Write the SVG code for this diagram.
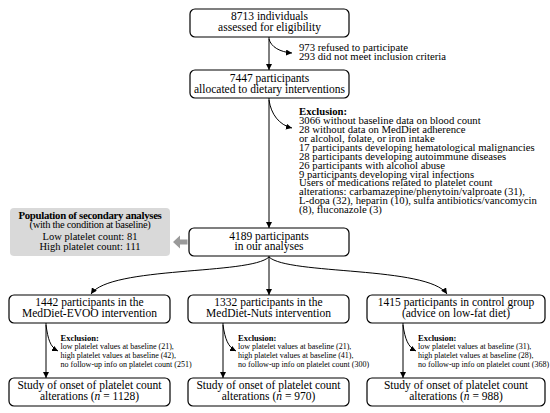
<svg xmlns="http://www.w3.org/2000/svg" width="550" height="413" viewBox="0 0 550 413">
<style>
text{font-family:"Liberation Serif","Times New Roman",serif;fill:#000}
.box{fill:#fff;stroke:#000;stroke-width:1.2}
.t{font-size:11.5px;text-anchor:middle}
.ex{font-size:10.7px}
.exb{font-weight:bold}
.sm{font-size:8px}
.smb{font-size:8.5px;font-weight:bold}
.ln{fill:none;stroke:#000;stroke-width:1}
</style>
<defs>
<marker id="ah" viewBox="0 0 10 10" refX="10" refY="5" markerWidth="6" markerHeight="6" markerUnits="userSpaceOnUse" orient="auto">
<path d="M0,0 L10,5 L0,10 Z" fill="#000"/>
</marker>
</defs>

<g id="connectors">
<path class="ln" d="M269,37 V70" marker-end="url(#ah)"/>
<path class="ln" d="M269,39 C271,47 280,52 292,53" marker-end="url(#ah)"/>
<path class="ln" d="M269,98 V228" marker-end="url(#ah)"/>
<path class="ln" d="M269,100 C271,114 279,125 292,128" marker-end="url(#ah)"/>
<path class="ln" d="M269,256 V295" marker-end="url(#ah)"/>
<path class="ln" d="M269,257 C250,275 110,266 91,294" marker-end="url(#ah)"/>
<path class="ln" d="M269,257 C288,275 428,266 447,294" marker-end="url(#ah)"/>
<path class="ln" d="M46,323 V378" marker-end="url(#ah)"/>
<path class="ln" d="M46,325 C48,339 50,347 58,351" marker-end="url(#ah)"/>
<path class="ln" d="M223,323 V378" marker-end="url(#ah)"/>
<path class="ln" d="M223,325 C225,339 228,347 236,351" marker-end="url(#ah)"/>
<path class="ln" d="M403,323 V378" marker-end="url(#ah)"/>
<path class="ln" d="M403,325 C405,339 408,347 416,351" marker-end="url(#ah)"/>
<polygon points="173,242 180,235.5 180,239.5 187.5,239.5 187.5,244.5 180,244.5 180,248.5" fill="#9a9a9a"/>
</g>

<g id="n-eligibility">
<rect class="box" x="190" y="9" width="159" height="28" rx="5"/>
<text class="t" x="269.5" y="19.5">8713 individuals</text>
<text class="t" x="269.5" y="30.5">assessed for eligibility</text>
</g>

<g id="n-excl1">
<text class="ex" x="299" y="50.5">973 refused to participate</text>
<text class="ex" x="299" y="59.5">293 did not meet inclusion criteria</text>
</g>

<g id="n-allocated">
<rect class="box" x="190" y="70" width="159" height="28" rx="5"/>
<text class="t" x="269.5" y="81.5">7447 participants</text>
<text class="t" x="269.5" y="92.5">allocated to dietary interventions</text>
</g>

<g id="n-excl2">
<text class="ex exb" x="299" y="115">Exclusion:</text>
<text class="ex" x="299" y="124">3066 without baseline data on blood count</text>
<text class="ex" x="299" y="133">28 without data on MedDiet adherence</text>
<text class="ex" x="299" y="142">or alcohol, folate, or iron intake</text>
<text class="ex" x="299" y="150.8">17 participants developing hematological malignancies</text>
<text class="ex" x="299" y="159.7">28 participants developing autoimmune diseases</text>
<text class="ex" x="299" y="168.6">26 participants with alcohol abuse</text>
<text class="ex" x="299" y="177.5">9 participants developing viral infections</text>
<text class="ex" x="299" y="186.4">Users of medications related to platelet count</text>
<text class="ex" x="299" y="195.3">alterations: carbamazepine/phenytoin/valproate (31),</text>
<text class="ex" x="299" y="204.2">L-dopa (32), heparin (10), sulfa antibiotics/vancomycin</text>
<text class="ex" x="299" y="213.1">(8), fluconazole (3)</text>
</g>

<g id="n-secondary">
<rect x="10" y="208" width="160" height="48" rx="4" fill="#d9d9d9"/>
<text x="90" y="218.5" text-anchor="middle" font-size="10.8" font-weight="bold" letter-spacing="-0.3">Population of secondary analyses</text>
<text x="90" y="228.3" text-anchor="middle" font-size="10.5" letter-spacing="-0.3">(with the condition at baseline)</text>
<text x="90" y="240" text-anchor="middle" font-size="10.5">Low platelet count: 81</text>
<text x="90" y="250" text-anchor="middle" font-size="10.5">High platelet count: 111</text>
</g>

<g id="n-analyses">
<rect class="box" x="189" y="228" width="160" height="28" rx="5"/>
<text class="t" x="269" y="239.5">4189 participants</text>
<text class="t" x="269" y="250">in our analyses</text>
</g>

<g id="n-evoo">
<rect class="box" x="9" y="295" width="161" height="28" rx="5"/>
<text class="t" x="89.5" y="306">1442 participants in the</text>
<text class="t" x="89.5" y="316.5">MedDiet-EVOO intervention</text>
</g>

<g id="n-nuts">
<rect class="box" x="188" y="295" width="161" height="28" rx="5"/>
<text class="t" x="268.5" y="306">1332 participants in the</text>
<text class="t" x="268.5" y="316.5">MedDiet-Nuts intervention</text>
</g>

<g id="n-control">
<rect class="box" x="367" y="295" width="178" height="28" rx="5"/>
<text class="t" x="456" y="306">1415 participants in control group</text>
<text class="t" x="456" y="316.5">(advice on low-fat diet)</text>
</g>

<g id="n-excl-evoo">
<text class="smb" x="60.5" y="340.5">Exclusion:</text>
<text class="sm" x="60.5" y="349.2">low platelet values at baseline (21),</text>
<text class="sm" x="60.5" y="357.9">high platelet values at baseline (42),</text>
<text class="sm" x="60.5" y="366.6">no follow-up info on platelet count (251)</text>
</g>

<g id="n-excl-nuts">
<text class="smb" x="238" y="340.5">Exclusion:</text>
<text class="sm" x="238" y="349.2">low platelet values at baseline (21),</text>
<text class="sm" x="238" y="357.9">high platelet values at baseline (41),</text>
<text class="sm" x="238" y="366.6">no follow-up info on platelet count (300)</text>
</g>

<g id="n-excl-control">
<text class="smb" x="418" y="340.5">Exclusion:</text>
<text class="sm" x="418" y="349.2">low platelet values at baseline (31),</text>
<text class="sm" x="418" y="357.9">high platelet values at baseline (28),</text>
<text class="sm" x="418" y="366.6">no follow-up info on platelet count (368)</text>
</g>

<g id="n-study-evoo">
<rect class="box" x="9" y="378" width="161" height="28" rx="5"/>
<text class="t" x="89.5" y="389.3">Study of onset of platelet count</text>
<text class="t" x="89.5" y="399.8">alterations (<tspan font-style="italic">n</tspan> = 1128)</text>
</g>

<g id="n-study-nuts">
<rect class="box" x="188" y="378" width="161" height="28" rx="5"/>
<text class="t" x="268.5" y="389.3">Study of onset of platelet count</text>
<text class="t" x="268.5" y="399.8">alterations (<tspan font-style="italic">n</tspan> = 970)</text>
</g>

<g id="n-study-control">
<rect class="box" x="367" y="378" width="178" height="28" rx="5"/>
<text class="t" x="456" y="389.3">Study of onset of platelet count</text>
<text class="t" x="456" y="399.8">alterations (<tspan font-style="italic">n</tspan> = 988)</text>
</g>
</svg>
